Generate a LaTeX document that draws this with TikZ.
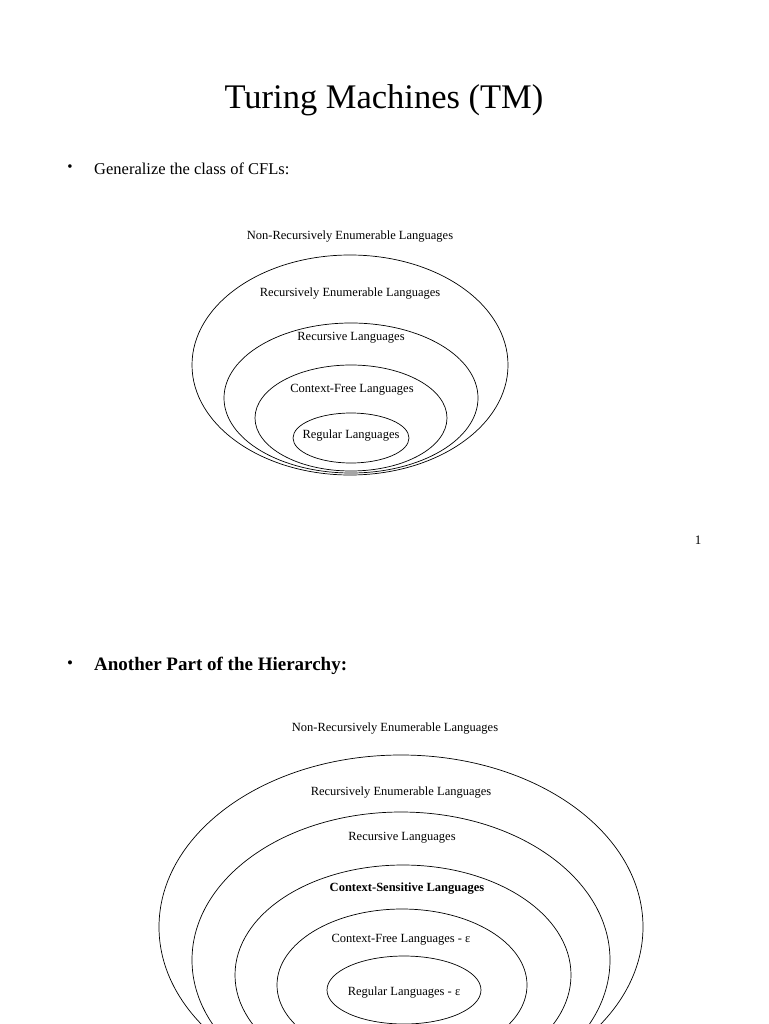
\documentclass[tikz,border=0pt]{standalone}
\usepackage{fontspec}
\setmainfont{Liberation Serif}
\begin{document}
\begin{tikzpicture}[x=1pt,y=-1pt,
  lab/.style={inner sep=0pt,font=\fontsize{12.5}{14}\selectfont},
  ell/.style={draw,line width=0.7pt}]
\useasboundingbox (0,0) rectangle (768,1024);
\clip (0,0) rectangle (768,1024);
\node[inner sep=0pt,font=\fontsize{34.5}{40}\selectfont] (title) at (384,100) {Turing Machines (TM)};
\node[inner sep=0pt,font=\fontsize{15}{18}\selectfont] (b1) at (70,168) {•};
\node[inner sep=0pt,anchor=west,font=\fontsize{16.5}{20}\selectfont] (g) at (94,169) {Generalize the class of CFLs:};
% top diagram
\draw[ell] (350,365) ellipse [x radius=158,y radius=110];
\draw[ell] (351,398) ellipse [x radius=127,y radius=75];
\draw[ell] (351,418) ellipse [x radius=96,y radius=53];
\draw[ell] (351,438) ellipse [x radius=58,y radius=25];
\node[lab] (n1) at (350,237) {Non-Recursively Enumerable Languages};
\node[lab] (n2) at (350,294) {Recursively Enumerable Languages};
\node[lab] (n3) at (351,338) {Recursive Languages};
\node[lab] (n4) at (352,390) {Context-Free Languages};
\node[lab] (n5) at (351,436) {Regular Languages};
\node[inner sep=0pt,font=\fontsize{13}{15}\selectfont] (p1) at (698,540) {1};
% bottom
\node[inner sep=0pt,font=\fontsize{17}{20}\selectfont] (b2) at (70,665) {•};
\node[inner sep=0pt,anchor=west,font=\bfseries\fontsize{19}{22}\selectfont] (h) at (94,666) {Another Part of the Hierarchy:};
\draw[ell] (401,927) ellipse [x radius=242,y radius=172];
\draw[ell] (401,960) ellipse [x radius=209,y radius=148];
\draw[ell] (403,975) ellipse [x radius=168,y radius=110];
\draw[ell] (402,985) ellipse [x radius=125,y radius=76];
\draw[ell] (404,990) ellipse [x radius=77,y radius=34];
\node[lab] (m1) at (395,729) {Non-Recursively Enumerable Languages};
\node[lab] (m2) at (401,793) {Recursively Enumerable Languages};
\node[lab] (m3) at (402,838) {Recursive Languages};
\node[lab,font=\bfseries\fontsize{12.5}{14}\selectfont] (m4) at (407,889) {Context-Sensitive Languages};
\node[lab] (m5) at (401,940) {Context-Free Languages - ε};
\node[lab] (m6) at (404,992) {Regular Languages - ε};
\end{tikzpicture}
\end{document}
